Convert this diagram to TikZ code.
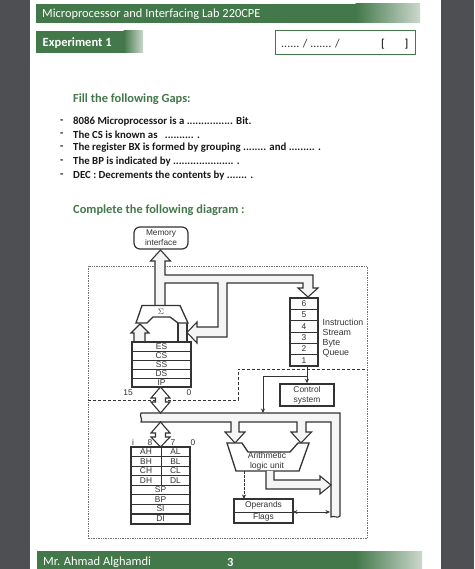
\documentclass[tikz,border=0pt]{standalone}
\usepackage{fontspec}
\setmainfont{Carlito}
\newfontfamily\diagfont{Liberation Sans}
\usetikzlibrary{arrows.meta}
\definecolor{labgreen}{HTML}{43784A}
\definecolor{labfade}{HTML}{CBD8CC}
\definecolor{pagegrey}{HTML}{4D4F52}
\definecolor{ink}{HTML}{333333}
\definecolor{bandfill}{HTML}{F5F5F5}
\tikzset{
  band/.style={draw=ink,line width=1.1pt,fill=bandfill,line join=miter},
  cell/.style={draw=ink,line width=0.9pt,inner sep=0pt,minimum height=9.5pt,text=ink,font=\diagfont\fontsize{8.4}{8.4}\selectfont},
  framebox/.style={draw=ink,line width=1.5pt,inner sep=0pt},
  plain/.style={inner sep=0pt,text=ink,font=\diagfont\fontsize{8.4}{9}\selectfont,align=left},
  wire/.style={draw=ink,line width=1pt},
  tip/.style={-{Stealth[length=4.5pt,width=4pt]}},
  gap/.style={anchor=west,inner sep=0pt,font=\bfseries\fontsize{10.8}{12}\selectfont,text=black!90},
  heading/.style={anchor=west,inner sep=0pt,font=\bfseries\fontsize{12.4}{14}\selectfont,text=labgreen},
  whitetext/.style={anchor=west,inner sep=0pt,text=white}
}
\begin{document}
\begin{tikzpicture}[x=1pt,y=-1pt]
\useasboundingbox (0,0) rectangle (474,569);
% page
\fill[pagegrey] (0,0) rectangle (474,569);
\fill[white] (30,0) rectangle (441,569);
% header
\fill[labgreen] (36,4) rectangle (356,23);
\shade[left color=labgreen,right color=labfade] (355.5,4) rectangle (420,23);
\node[whitetext,font=\fontsize{12.4}{14}\selectfont] (title) at (42,14) {Microprocessor and Interfacing Lab 220CPE};
\fill[labgreen] (36,31) rectangle (124,53);
\shade[left color=labgreen,right color=labfade] (123.5,31) rectangle (143,53);
\node[whitetext,font=\bfseries\fontsize{12.5}{14}\selectfont] (exp) at (42.5,43.5) {Experiment 1};
\draw[labgreen,line width=1pt] (275,31) rectangle (415,55);
\node[anchor=west,inner sep=0pt,font=\fontsize{12}{14}\selectfont,text=black!80] (date) at (281,44) {...... / ....... /};
\node[anchor=center,inner sep=0pt,font=\bfseries\fontsize{11.5}{13}\selectfont,text=black!80] (bra) at (383,44) {[};
\node[anchor=center,inner sep=0pt,font=\bfseries\fontsize{11.5}{13}\selectfont,text=black!80] (ket) at (406.5,44) {]};
% text
\node[heading] (h1) at (73,99) {Fill the following Gaps:};
\node[gap] (gapa) at (73,122) {8086 Microprocessor is a ................ Bit.};
\node[gap] (gapb) at (73,135) {The CS is known as \ \ .......... .};
\node[gap] (gapc) at (73,148) {The register BX is formed by grouping ........ and ......... .};
\node[gap] (gapd) at (73,162) {The BP is indicated by ..................... .};
\node[gap] (gape) at (73,176) {DEC : Decrements the contents by ....... .};
\node[gap] (dasha) at (60,122) {-};
\node[gap] (dashb) at (60,135) {-};
\node[gap] (dashc) at (60,148) {-};
\node[gap] (dashd) at (60,162) {-};
\node[gap] (dashe) at (60,176) {-};
\node[heading] (h2) at (73,210) {Complete the following diagram :};
% dotted frame
\draw[ink!70,line width=0.7pt,densely dotted] (88,266) rectangle (367,538.5);
% dashed divider
\coordinate (dl) at (88,400); \coordinate (dm) at (238,400); \coordinate (dt) at (238,369); \coordinate (dr) at (367,369);
\draw[ink,line width=0.8pt,dashed,dash pattern=on 3pt off 2pt] (dl) -- (dm) -- (dt) -- (dr);
% memory interface
\node[draw=ink,line width=1.2pt,rounded corners=6pt,minimum width=54pt,minimum height=22pt,inner sep=0pt,text=ink,align=center,font=\diagfont\fontsize{8.3}{10}\selectfont] (mem) at (161,238) {Memory\\interface};
% main address band
\draw[band] (155,306) -- (155,261) -- (150.5,261) -- (160.5,250) -- (170.5,261) -- (165,261) -- (165,275) -- (313,275) -- (313,288) -- (318,288) -- (308,297) -- (298,288) -- (303,288) -- (303,283) -- (227,283) -- (227,337) -- (197,337) -- (197,343) -- (187,332.5) -- (197,322) -- (197,327) -- (218,327) -- (218,283) -- (165,283) -- (165,306);
% feeds into adder
\draw[band] (134,342) -- (134,333) -- (131,333) -- (140,324) -- (149,333) -- (145,333) -- (145,342);
\draw[band] (178,342) -- (178,322) -- (187,322) -- (187,342);
% adder
\draw[band,fill=white,line width=1.3pt] (142,305.5) -- (180,305.5) -- (188,323) -- (178,323) -- (170,317) -- (153,317) -- (147,323) -- (136,323) -- cycle;
\node[plain] (sigma) at (161,311.5) {$\Sigma$};
% segment registers
\node[cell,minimum width=59pt,minimum height=9pt] (es) at (161.5,346.5) {ES};
\node[cell,minimum width=59pt,minimum height=9pt] (cs) at (161.5,355.5) {CS};
\node[cell,minimum width=59pt,minimum height=9pt] (ss) at (161.5,364.5) {SS};
\node[cell,minimum width=59pt,minimum height=9pt] (ds) at (161.5,373.5) {DS};
\node[cell,minimum width=59pt,minimum height=9pt] (ip) at (161.5,382.5) {IP};
\draw[ink,line width=1.3pt] (132,342) rectangle (191,387);
\node[plain] (n15) at (128,393) {15};
\node[plain] (n0) at (189,393) {0};
% bus
\draw[band] (141,422) .. controls (143,419) and (139,416) .. (141,413) -- (340,413) -- (340,516) .. controls (337,519) and (334,515) .. (331,517) -- (331,422) -- (306,422) -- (306,432) -- (311.5,432) -- (301,443) -- (291,432) -- (297,432) -- (297,422) -- (239,422) -- (239,432) -- (245,432) -- (235,443) -- (225,432) -- (231,432) -- (231,422) -- cycle;
% double arrows
\draw[band,fill=white] (160.5,387) -- (170,398) -- (165.5,398) -- (165.5,402) -- (170,402) -- (160.5,413) -- (151,402) -- (155.5,402) -- (155.5,398) -- (151,398) -- cycle;
\draw[band,fill=white] (160.5,422) -- (170,433) -- (165.5,433) -- (165.5,437) -- (170,437) -- (160.5,447) -- (151,437) -- (155.5,437) -- (155.5,433) -- (151,433) -- cycle;
% general registers
\node[cell,minimum width=30pt] (axh) at (146,451.7) {AH};
\node[cell,minimum width=29pt] (axl) at (175.5,451.7) {AL};
\node[cell,minimum width=30pt] (bxh) at (146,461.2) {BH};
\node[cell,minimum width=29pt] (bxl) at (175.5,461.2) {BL};
\node[cell,minimum width=30pt] (cxh) at (146,470.7) {CH};
\node[cell,minimum width=29pt] (cxl) at (175.5,470.7) {CL};
\node[cell,minimum width=30pt] (dxh) at (146,480.2) {DH};
\node[cell,minimum width=29pt] (dxl) at (175.5,480.2) {DL};
\node[cell,minimum width=59pt] (sp) at (160.5,490) {SP};
\node[cell,minimum width=59pt] (bp) at (160.5,499.5) {BP};
\node[cell,minimum width=59pt] (si) at (160.5,509) {SI};
\node[cell,minimum width=59pt] (di) at (160.5,519) {DI};
\draw[ink,line width=1.3pt] (131,447) rectangle (190,524);
\node[plain] (i15) at (133,442.5) {i};
\node[plain] (n8) at (150,443) {8};
\node[plain] (n7) at (173,443) {7};
\node[plain] (n0b) at (193,443) {0};
% queue
\node[cell,minimum width=28pt,minimum height=11.3pt] (q6) at (304,303.7) {6};
\node[cell,minimum width=28pt,minimum height=11.3pt] (q5) at (304,315) {5};
\node[cell,minimum width=28pt,minimum height=11.3pt] (q4) at (304,326.3) {4};
\node[cell,minimum width=28pt,minimum height=11.3pt] (q3) at (304,337.7) {3};
\node[cell,minimum width=28pt,minimum height=11.3pt] (q2) at (304,349) {2};
\node[cell,minimum width=28pt,minimum height=11.3pt] (q1) at (304,360.3) {1};
\draw[ink,line width=1.3pt] (290,298) rectangle (318,366);
\node[plain,anchor=north west,font=\diagfont\fontsize{8.8}{10}\selectfont] (qlabel) at (322.5,319) {Instruction\\Stream\\Byte\\Queue};
% control
\node[framebox,minimum width=54pt,minimum height=22pt,text=ink,align=center,font=\diagfont\fontsize{8.4}{10}\selectfont] (ctrl) at (307,395) {Control\\system};
\coordinate (qout) at (307,366);
\coordinate (qtap) at (307,376.5);
\coordinate (bustap) at (263,413);
\draw[wire,tip] (qout) -- (ctrl.north);
\draw[wire,tip] (qtap) -- (263,376.5) -- (bustap);
% ALU
\draw[band,fill=white,line width=1.3pt] (227,443) -- (242,443) -- (248,452) -- (290,452) -- (298,443) -- (309,443) -- (299,471) -- (236,471) -- cycle;
\node[plain,align=center,font=\diagfont\fontsize{8.6}{9.5}\selectfont] (alu) at (267,461.5) {Arithmetic\\logic unit};
% ALU output
\draw[band] (266,471) -- (266,489) -- (320,489) -- (320,494) -- (331,485) -- (320,476) -- (320,480) -- (274,480) -- (274,471);
% operands / flags
\node[cell,minimum width=59pt,minimum height=13pt] (ops) at (263.5,505.5) {Operands};
\node[cell,minimum width=59pt,minimum height=11pt] (flags) at (263.5,517.5) {Flags};
\draw[ink,line width=1.3pt] (234,499) rectangle (293,523);
\coordinate (aluout) at (244,471);
\coordinate (opstop) at (244,499);
\coordinate (busflag) at (330,512);
\coordinate (flagport) at (293,512);
\draw[wire,dashed,dash pattern=on 2.5pt off 1.5pt,tip] (aluout) -- (opstop);
\draw[ink,line width=0.8pt,{Stealth[length=4.5pt,width=4pt]}-{Stealth[length=4.5pt,width=4pt]}] (flagport) -- (busflag);
% footer
\fill[labgreen] (37,551) rectangle (356,569);
\shade[left color=labgreen,right color=labfade] (355.5,551) rectangle (422,569);
\node[whitetext,font=\fontsize{12.5}{14}\selectfont] (author) at (43,562) {Mr. Ahmad Alghamdi};
\node[whitetext,font=\bfseries\fontsize{12.5}{14}\selectfont] (page) at (227,562) {3};
\end{tikzpicture}
\end{document}
